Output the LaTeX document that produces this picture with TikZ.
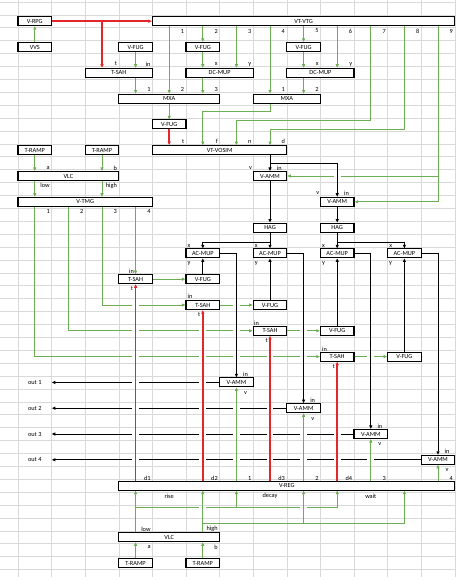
\documentclass[tikz,border=0pt]{standalone}
\usepackage{fontspec}
\setmainfont{Carlito}
\usetikzlibrary{arrows.meta}
\definecolor{celgrid}{HTML}{D9D9D9}
\definecolor{sigred}{HTML}{E3262B}
\definecolor{siggrn}{HTML}{6DAE55}
\tikzset{
  blk/.style={draw=black,line width=1.1pt,fill=white,minimum height=9pt,inner sep=0pt,font=\fontsize{6.3}{7}\selectfont},
  cols/.style={minimum width=#1*33.6pt},
  lbl/.style={font=\fontsize{6.3}{7}\selectfont,inner sep=0pt},
}

\begin{document}
\begin{tikzpicture}[x=33.6pt,y=-12.9pt,>={Triangle[length=3.5pt,width=3pt]},
  wred/.style={sigred,line width=1.5pt},
  wgrn/.style={siggrn,line width=0.8pt},
  wblk/.style={black,line width=1pt}]
  \useasboundingbox (-0.5357,-1.6434) rectangle (13.5714,43.0853);
  % --- sheet grid
  \foreach \c in {0,...,13} \draw[celgrid,line width=0.4pt] (\c,-1.6434) -- (\c,43.0853);
  \foreach \r in {-2,...,42} \draw[celgrid,line width=0.4pt] (-0.5357,\r+0.5) -- (13,\r+0.5);
  \foreach \c in {0,...,12} \coordinate (c\c) at (\c+0.5,0);
  % --- top blocks
  \node[blk,cols=1] (vrpg) at (0.5,0) {V-RPG};
  \node[blk,cols=9] (vtvtg) at (8.5,0) {VT-VTG};
  \node[blk,cols=1] (vvs) at (0.5,2) {VVS};
  \node[blk,cols=1] (vfugA) at (3.5,2) {V-FUG};
  \node[blk,cols=1] (vfugB) at (5.5,2) {V-FUG};
  \node[blk,cols=1] (vfugC) at (8.5,2) {V-FUG};
  \node[blk,cols=2] (tsahA) at (3,4) {T-SAH};
  \node[blk,cols=2] (dcmupA) at (6,4) {DC-MUP};
  \node[blk,cols=2] (dcmupB) at (9,4) {DC-MUP};
  \node[blk,cols=3] (mxaA) at (4.5,6) {MXA};
  \node[blk,cols=2] (mxaB) at (8,6) {MXA};
  \node[blk,cols=1] (vfugD) at (4.5,8) {V-FUG};
  \node[blk,cols=4] (vosim) at (6,10) {VT-VOSIM};
  % --- envelope timing
  \node[blk,cols=1] (rampA) at (0.5,10) {T-RAMP};
  \node[blk,cols=1] (rampB) at (2.5,10) {T-RAMP};
  \node[blk,cols=3] (vlcA) at (1.5,12) {VLC};
  \node[blk,cols=4] (vtmg) at (2,14) {V-TMG};
  % --- amplitude chain
  \node[blk,cols=1] (ammA) at (7.5,12) {V-AMM};
  \node[blk,cols=1] (ammB) at (9.5,14) {V-AMM};
  \node[blk,cols=1] (hagA) at (7.5,16) {HAG};
  \node[blk,cols=1] (hagB) at (9.5,16) {HAG};
  \foreach \n/\x in {1/5.5,2/7.5,3/9.5,4/11.5} \node[blk,cols=1] (acm\n) at (\x,18) {AC-MUP};
  \foreach \n/\x/\y in {1/3.5/20,2/5.5/22,3/7.5/24,4/9.5/26} {
    \node[blk,cols=1] (sah\n) at (\x,\y) {T-SAH};
    \node[blk,cols=1] (fug\n) at (\x+2,\y) {V-FUG};
  }
  \foreach \n/\x/\y in {1/6.5/28,2/8.5/30,3/10.5/32,4/12.5/34} {
    \node[blk,cols=1] (amm\n) at (\x,\y) {V-AMM};
    \node[lbl,minimum width=33.6pt] (out\n) at (0.5,\y) {out \n};
  }
  % --- regulator
  \node[blk,cols=10] (vreg) at (8,36) {V-REG};
  \node[blk,cols=3] (vlcB) at (4.5,40) {VLC};
  \node[blk,cols=1] (rampC) at (3.5,42) {T-RAMP};
  \node[blk,cols=1] (rampD) at (5.5,42) {T-RAMP};
  % --- port labels
  \foreach \n in {1,...,9} \node[lbl,anchor=east] (vtgo\n) at (\n+3.95,0.76) {\n};
  \node[lbl,anchor=east] (tsahAt) at (2.95,3.32) {t};
  \node[lbl,anchor=east] (tsahAin) at (3.95,3.32) {in};
  \node[lbl,anchor=east] (dcmupAx) at (5.95,3.32) {x};
  \node[lbl,anchor=east] (dcmupAy) at (6.95,3.32) {y};
  \node[lbl,anchor=east] (dcmupBx) at (8.95,3.32) {x};
  \node[lbl,anchor=east] (dcmupBy) at (9.95,3.32) {y};
  \foreach \n in {1,2,3} \node[lbl,anchor=east] (mxaAi\n) at (\n+2.95,5.33) {\n};
  \foreach \n in {1,2} \node[lbl,anchor=east] (mxaBi\n) at (\n+6.95,5.33) {\n};
  \foreach \c/\t in {5/t,6/f,7/n,8/d} \node[lbl,anchor=east] (vosim\t) at (\c-0.05,9.34) {\t};
  \node[lbl,anchor=east] (vlcAa) at (0.95,11.4) {a};
  \node[lbl,anchor=east] (vlcAb) at (2.95,11.4) {b};
  \node[lbl,anchor=east] (vlcAlo) at (0.95,12.75) {low};
  \node[lbl,anchor=east] (vlcAhi) at (2.95,12.75) {high};
  \foreach \n in {1,...,4} \node[lbl,anchor=east] (vtmgo\n) at (\n-0.05,14.77) {\n};
  \node[lbl,anchor=east] (ammAv) at (6.97,11.4) {v};
  \node[lbl,anchor=west] (ammAin) at (7.7,11.4) {in};
  \node[lbl,anchor=east] (ammBv) at (8.97,13.34) {v};
  \node[lbl,anchor=west] (ammBin) at (9.7,13.34) {in};
  \foreach \n/\a in {1/5,2/7,3/9,4/11} {
    \node[lbl] (acmx\n) at (\a+0.09,17.4) {x};
    \node[lbl] (acmy\n) at (\a+0.09,18.77) {y};
  }
  \node[lbl] (sah1in) at (3.38,19.37) {in};
  \node[lbl] (sah1t) at (3.39,20.76) {t};
  \node[lbl] (sah2in) at (5.12,21.36) {in};
  \node[lbl] (sah2t) at (5.39,22.74) {t};
  \node[lbl] (sah3in) at (7.1,23.4) {in};
  \node[lbl] (sah3t) at (7.4,24.74) {t};
  \node[lbl] (sah4in) at (9.12,25.43) {in};
  \node[lbl] (sah4t) at (9.4,26.74) {t};
  \foreach \n/\a/\k in {1/6/28,2/8/30,3/10/32,4/12/34} {
    \node[lbl] (ammin\n) at (\a+0.77,\k-0.63) {in};
    \node[lbl] (ammv\n) at (\a+0.77,\k+0.8) {v};
  }
  \foreach \c/\t in {4/d1,6/d2,7/1,8/d3,9/2,10/d4,11/3,13/4} \node[lbl,anchor=east] (vregt\c) at (\c-0.05,35.41) {\t};
  \node[lbl] (vregrise) at (4.5,36.8) {rise};
  \node[lbl] (vregdecay) at (7.5,36.8) {decay};
  \node[lbl] (vregwait) at (10.5,36.8) {wait};
  \node[lbl,anchor=east] (vlcBlo) at (3.95,39.39) {low};
  \node[lbl,anchor=east] (vlcBhi) at (5.95,39.39) {high};
  \node[lbl,anchor=east] (vlcBa) at (3.95,40.76) {a};
  \node[lbl,anchor=east] (vlcBb) at (5.95,40.76) {b};
  % --- trigger lines
  \draw[wred,->] (vrpg.east) -- (vtvtg.west);
  \draw[wred,->] (vrpg.east -| c2) -- (tsahA.north -| c2);
  \draw[wred,->] (vfugD.south) -- (vosim.north -| c4);
  \draw[wred,->] (vreg.north -| c3) -- (sah1.south);
  \draw[wred,->] (vreg.north -| c5) -- (sah2.south);
  \draw[wred,->] (vreg.north -| c7) -- (sah3.south);
  \draw[wred,->] (vreg.north -| c9) -- (sah4.south);
  % --- oscillator part
  \draw[wgrn,->] (vvs.north) -- (vrpg.south);
  \draw[wgrn,->] (vtvtg.south -| c4) -- (mxaA.north -| c4);
  \draw[wgrn,->] (vtvtg.south -| c5) -- (vfugB.north);
  \draw[wgrn,->] (vfugB.south) -- (dcmupA.north -| c5);
  \draw[wgrn,->] (vtvtg.south -| c6) -- (dcmupA.north -| c6);
  \draw[wgrn,->] (dcmupA.south -| c5) -- (mxaA.north -| c5);
  \draw[wgrn,->] (vfugA.south) -- (tsahA.north -| c3);
  \draw[wgrn,->] (tsahA.south -| c3) -- (mxaA.north -| c3);
  \draw[wgrn,->] (vtvtg.south -| c7) -- (mxaB.north -| c7);
  \draw[wgrn,->] (vtvtg.south -| c8) -- (vfugC.north);
  \draw[wgrn,->] (vfugC.south) -- (dcmupB.north -| c8);
  \draw[wgrn,->] (vtvtg.south -| c9) -- (dcmupB.north -| c9);
  \draw[wgrn,->] (dcmupB.south -| c8) -- (mxaB.north -| c8);
  \draw[wgrn,->] (mxaA.south -| c4) -- (vfugD.north);
  \draw[wgrn,->] (mxaB.south -| c7) -- ++(0,0.6) -| (vosim.north -| c5);
  \draw[wgrn,->] (vtvtg.south -| c10) -- ++(0,7.31) -| (vosim.north -| c6);
  \draw[wgrn,->] (vtvtg.south -| c11) -- ++(0,7.98) -| (vosim.north -| c7);
  \draw[wgrn,->] (vtvtg.south -| c12) |- (ammA.east);
  \draw[wgrn,->] (vtvtg.south -| c12) |- (ammB.east);
  % --- timing part
  \draw[wgrn,->] (rampA.south) -- (vlcA.north -| c0);
  \draw[wgrn,->] (rampB.south) -- (vlcA.north -| c2);
  \draw[wgrn,->] (vlcA.south -| c0) -- (vtmg.north -| c0);
  \draw[wgrn,->] (vlcA.south -| c2) -- (vtmg.north -| c2);
  \draw[wgrn,->] (vtmg.south -| c3) -- (sah1.north);
  \draw[wgrn,->] (vtmg.south -| c2) |- (sah2.west);
  \draw[wgrn,->] (vtmg.south -| c1) |- (sah3.west);
  \draw[wgrn,->] (vtmg.south -| c0) |- (sah4.west);
  \foreach \n in {1,...,4} \draw[wgrn,->] (sah\n.east) -- (fug\n.west);
  % --- regulator part
  \foreach \n/\c in {1/c6,2/c8,3/c10,4/c12} \draw[wgrn,->] (vreg.north -| \c) -- (amm\n.south);
  \draw[wgrn,->] (rampC.north) -- (vlcB.south -| c3);
  \draw[wgrn,->] (rampD.north) -- (vlcB.south -| c5);
  \draw[wgrn,->] (vlcB.north -| c3) -- (vreg.south -| c3);
  \draw[wgrn,->] (vlcB.north -| c3) -- ++(0,-1.89) -| (vreg.south -| c6);
  \draw[wgrn,->] (vlcB.north -| c3) -- ++(0,-1.89) -| (vreg.south -| c9);
  \draw[wgrn,->] (vlcB.north -| c5) -- (vreg.south -| c5);
  \draw[wgrn,->] (vlcB.north -| c5) -- ++(0,-0.65) -| (vreg.south -| c8);
  \draw[wgrn,->] (vlcB.north -| c5) -- ++(0,-0.65) -| (vreg.south -| c11);
  % --- signal path
  \draw[wblk,->] (vosim.south -| c7) -- (ammA.north);
  \draw[wblk,->] (vosim.south -| c7) -- ++(0,0.65) -| (ammB.north);
  \draw[wblk,->] (ammA.south) -- (hagA.north);
  \draw[wblk,->] (ammB.south) -- (hagB.north);
  \draw[wblk,->] (hagA.south) -- (acm2.north);
  \draw[wblk,->] (hagA.south) -- ++(0,0.75) -| (acm1.north);
  \draw[wblk,->] (hagB.south) -- (acm3.north);
  \draw[wblk,->] (hagB.south) -- ++(0,0.75) -| (acm4.north);
  \foreach \n in {1,...,4} {
    \draw[wblk,->] (fug\n.north) -- (acm\n.south);
    \draw[wblk,->] (acm\n.east) -| (amm\n.north);
    \draw[wblk,->] (amm\n.west) -- (out\n.east);
  }
  % --- line hops: horizontal broken, vertical kept
  \foreach \x/\y/\s in {3.5/28/wred,5.5/28/wred,
      3.5/30/wred,5.5/30/wred,6.5/30/wgrn,7.5/30/wred,
      3.5/32/wred,5.5/32/wred,6.5/32/wgrn,7.5/32/wred,8.5/32/wgrn,9.5/32/wred,
      3.5/34/wred,5.5/34/wred,6.5/34/wgrn,7.5/34/wred,8.5/34/wgrn,9.5/34/wred,10.5/34/wgrn,
      3.5/22/wred,6.5/22/wblk,
      3.5/24/wred,5.5/24/wred,6.5/24/wblk,8.5/24/wblk,
      3.5/26/wred,5.5/26/wred,6.5/26/wblk,7.5/26/wred,8.5/26/wblk,10.5/26/wblk,
      9.5/12/wblk,5.5/37.76/wgrn,8.5/37.76/wgrn} {
    \fill[white] (\x-0.1,\y-0.12) rectangle (\x+0.1,\y+0.12);
    \draw[\s] (\x,\y-0.2) -- (\x,\y+0.2);
  }
\end{tikzpicture}
\end{document}
